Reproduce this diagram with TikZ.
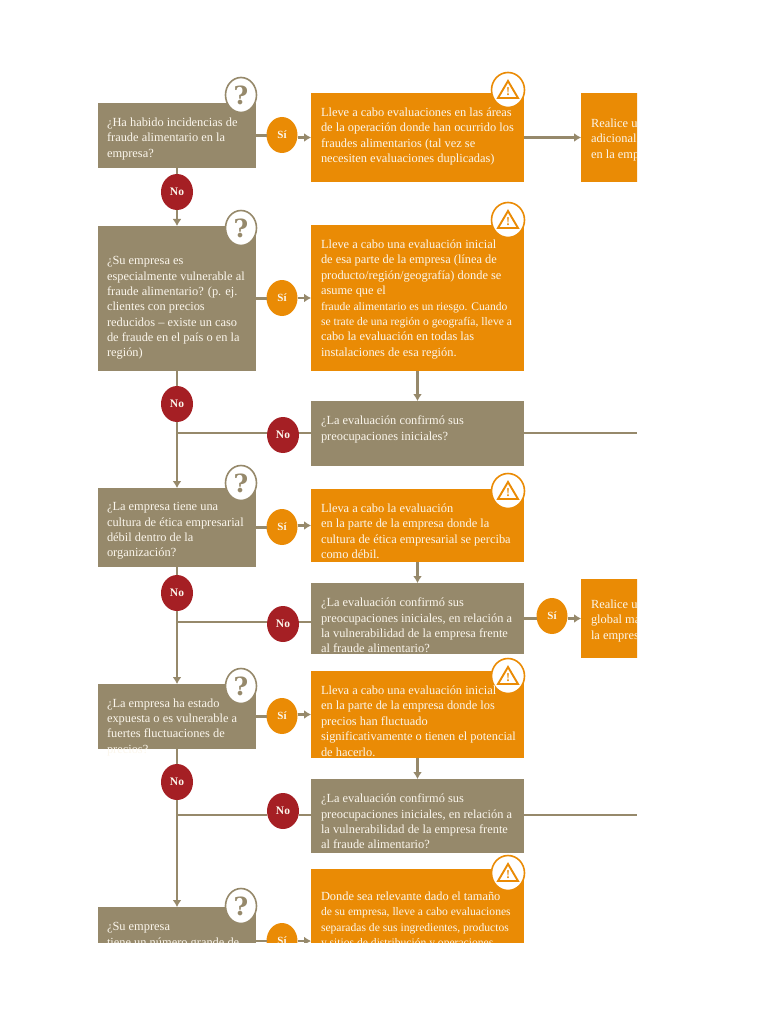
\documentclass[tikz,border=0pt]{standalone}
\usepackage{fontspec}
\setmainfont{Liberation Serif}
\newfontfamily\qmarkfont{DejaVu Serif}
\newcommand{\narrowline}[1]{{\fontsize{11.6}{15.35}\selectfont #1}}
\usetikzlibrary{shapes.geometric,arrows.meta}
\definecolor{khaki}{HTML}{96896B}
\definecolor{orng}{HTML}{EA8B05}
\definecolor{dred}{HTML}{A51F24}
\definecolor{txtw}{HTML}{FBF6EC}
\tikzset{
  boxbase/.style={rectangle,inner sep=0pt,outer sep=0pt},
  qbox/.style={boxbase,fill=khaki},
  obox/.style={boxbase,fill=orng},
  txt/.style={anchor=north west,yshift=-2.5pt,inner sep=0pt,outer sep=0pt,align=left,text=txtw,font=\fontsize{12.4}{15.35}\selectfont},
  sibub/.style={ellipse,fill=orng,minimum width=31,minimum height=36,inner sep=0pt,outer sep=0pt,text=txtw,font=\fontsize{11}{12}\selectfont\bfseries},
  nobub/.style={ellipse,fill=dred,minimum width=32,minimum height=36,inner sep=0pt,outer sep=0pt,text=txtw,font=\fontsize{11.5}{12}\selectfont\bfseries},
  qbadge/.style={ellipse,fill=white,draw=khaki,line width=1.6pt,minimum width=31,minimum height=35,inner sep=0pt,text=khaki,font=\qmarkfont\fontsize{25}{25}\selectfont\bfseries},
  wcirc/.style={ellipse,fill=white,draw=orng,line width=1.6pt,minimum width=33,minimum height=35,inner sep=0pt},
  wtri/.style={draw=orng,line width=1.9pt,line join=miter},
  bang/.style={inner sep=0pt,text=orng,font=\fontsize{12}{12}\selectfont\bfseries},
  conn/.style={draw=khaki,line width=2.2pt},
  arr/.style={conn,-{Latex[length=7pt,width=9pt]}},
  warnb/.pic={
    \node[wcirc] (-c) at (0,0) {};
    \draw[wtri] (0,-9) -- (10,8) -- (-10,8) -- cycle;
    \node[bang] (-b) at (0,2) {!};
  }
}
\begin{document}
\begin{tikzpicture}[x=1pt,y=-1pt]
\useasboundingbox (0,0) rectangle (768,1024);
\begin{scope}
\clip (0,0) rectangle (637,942);

% boxes
\node[qbox,minimum width=158,minimum height=65] (q1) at (177,135.5) {};
\node[qbox,minimum width=158,minimum height=145] (q2) at (177,298.5) {};
\node[qbox,minimum width=158,minimum height=79] (q3) at (177,527.5) {};
\node[qbox,minimum width=158,minimum height=65] (q4) at (177,716.5) {};
\node[qbox,minimum width=158,minimum height=68] (q5) at (177,941) {};

\node[obox,minimum width=213,minimum height=89] (o1) at (417.5,137.5) {};
\node[obox,minimum width=213,minimum height=146] (o2) at (417.5,298) {};
\node[obox,minimum width=213,minimum height=73] (o3) at (417.5,525.5) {};
\node[obox,minimum width=213,minimum height=87] (o4) at (417.5,714.5) {};
\node[obox,minimum width=213,minimum height=144] (o5) at (417.5,941) {};

\node[qbox,minimum width=213,minimum height=65] (e2) at (417.5,433.5) {};
\node[qbox,minimum width=213,minimum height=71] (e3) at (417.5,618.5) {};
\node[qbox,minimum width=213,minimum height=74] (e4) at (417.5,816) {};

\node[obox,minimum width=80,minimum height=89,anchor=west] (r1) at (581,137.5) {};
\node[obox,minimum width=80,minimum height=79,anchor=west] (r3) at (581,618.5) {};

% bubbles
\node[sibub] (s1) at (282,135) {Sí};
\node[sibub] (s2) at (282,298) {Sí};
\node[sibub] (s3) at (282,527) {Sí};
\node[sibub] (s4) at (282,716) {Sí};
\node[sibub] (s5) at (282,941) {Sí};
\node[sibub] (s6) at (552,616) {Sí};

\node[nobub] (n1) at (177,192) {No};
\node[nobub] (n2) at (177,404) {No};
\node[nobub] (n3) at (177,593) {No};
\node[nobub] (n4) at (177,782) {No};
\node[nobub] (m2) at (283,435) {No};
\node[nobub] (m3) at (283,624) {No};
\node[nobub] (m4) at (283,811) {No};

% free ends and junctions
\coordinate (j2) at (177,433);
\coordinate (j3) at (177,622);
\coordinate (j4) at (177,815);
\coordinate (x2) at (637,433);
\coordinate (x4) at (637,815);

% connectors
\draw[conn] (q1.south) -- (n1.north);
\draw[arr] (n1.south) -- (q2.north);
\draw[conn] (q2.south) -- (n2.north);
\draw[arr] (n2.south) -- (q3.north);
\draw[conn] (q3.south) -- (n3.north);
\draw[arr] (n3.south) -- (q4.north);
\draw[conn] (q4.south) -- (n4.north);
\draw[arr] (n4.south) -- (q5.north);

\draw[conn] (q1.east) -- (q1.east -| s1.west);
\draw[conn] (q2.east) -- (q2.east -| s2.west);
\draw[conn] (q3.east) -- (q3.east -| s3.west);
\draw[conn] (q4.east) -- (q4.east -| s4.west);
\draw[conn] (q5.east) -- (q5.east -| s5.west);
\draw[arr] (s1.east |- o1.west) -- (o1.west);
\draw[arr] (s2.east |- o2.west) -- (o2.west);
\draw[arr] (s3.east |- o3.west) -- (o3.west);
\draw[arr] (s4.east |- o4.west) -- (o4.west);
\draw[arr] (s5.east |- o5.west) -- (o5.west);

\draw[arr] (o1.east) -- (r1.west);
\draw[arr] (o2.south) -- (e2.north);
\draw[arr] (o3.south) -- (e3.north);
\draw[arr] (o4.south) -- (e4.north);

\draw[conn] (j2) -- (j2 -| m2.west);
\draw[conn] (j2 -| m2.east) -- (j2 -| e2.west);
\draw[conn] (j3) -- (j3 -| m3.west);
\draw[conn] (j3 -| m3.east) -- (j3 -| e3.west);
\draw[conn] (j4) -- (j4 -| m4.west);
\draw[conn] (j4 -| m4.east) -- (j4 -| e4.west);
\draw[conn] (x2 -| e2.east) -- (x2);
\draw[conn] (x4 -| e4.east) -- (x4);
\draw[conn] (e3.east) -- (e3.east -| s6.west);
\draw[arr] (s6.east |- r3.west) -- (r3.west);

% badges
\node[qbadge] (b1) at (241,95) {?};
\node[qbadge] (b2) at (241,228) {?};
\node[qbadge] (b3) at (241,483) {?};
\node[qbadge] (b4) at (241,686) {?};
\node[qbadge] (b5) at (241,906) {?};
\pic (w1) at (508,90) {warnb};
\pic (w2) at (508,220) {warnb};
\pic (w3) at (508,491) {warnb};
\pic (w4) at (508,676) {warnb};
\pic (w5) at (508,873) {warnb};

% texts
\node[txt] (t1) at (107,115.5) {¿Ha habido incidencias de\\fraude alimentario en la\\empresa?};
\node[txt] (t2) at (107,254) {¿Su empresa es\\especialmente vulnerable al\\fraude alimentario? (p. ej.\\clientes con precios\\reducidos – existe un caso\\de fraude en el país o en la\\región)};
\node[txt] (t3) at (107,500) {¿La empresa tiene una\\cultura de ética empresarial\\débil dentro de la\\organización?};
\node[txt] (t4) at (107,696) {¿La empresa ha estado\\expuesta o es vulnerable a\\fuertes fluctuaciones de\\precios?};
\node[txt] (t5) at (107,920) {¿Su empresa\\tiene un número grande de};

\node[txt] (u1) at (321,105.5) {Lleve a cabo evaluaciones en las áreas\\de la operación donde han ocurrido los\\fraudes alimentarios (tal vez se\\necesiten evaluaciones duplicadas)};
\node[txt] (u2) at (321,237.5) {Lleve a cabo una evaluación inicial\\de esa parte de la empresa (línea de\\producto/región/geografía) donde se\\asume que el\\\narrowline{fraude alimentario es un riesgo. Cuando}\\\narrowline{se trate de una región o geografía, lleve a}\\cabo la evaluación en todas las\\instalaciones de esa región.};
\node[txt] (u3) at (321,501.5) {Lleva a cabo la evaluación\\en la parte de la empresa donde la\\cultura de ética empresarial se perciba\\como débil.};
\node[txt] (u4) at (321,683.5) {Lleva a cabo una evaluación inicial\\en la parte de la empresa donde los\\precios han fluctuado\\significativamente o tienen el potencial\\de hacerlo.};
\node[txt] (u5) at (321,889.5) {Donde sea relevante dado el tamaño\\\narrowline{de su empresa, lleve a cabo evaluaciones}\\\narrowline{separadas de sus ingredientes, productos}\\\narrowline{y sitios de distribución y operaciones}};

\node[txt] (v2) at (321,413.5) {¿La evaluación confirmó sus\\preocupaciones iniciales?};
\node[txt] (v3) at (321,595.5) {¿La evaluación confirmó sus\\preocupaciones iniciales, en relación a\\la vulnerabilidad de la empresa frente\\al fraude alimentario?};
\node[txt] (v4) at (321,791.5) {¿La evaluación confirmó sus\\preocupaciones iniciales, en relación a\\la vulnerabilidad de la empresa frente\\al fraude alimentario?};

\node[txt] (r1t) at (591,116.5) {Realice una\\adicional\\en la empresa};
\node[txt] (r3t) at (591,597.5) {Realice una\\global ma\\la empresa};
\end{scope}
\end{tikzpicture}
\end{document}
